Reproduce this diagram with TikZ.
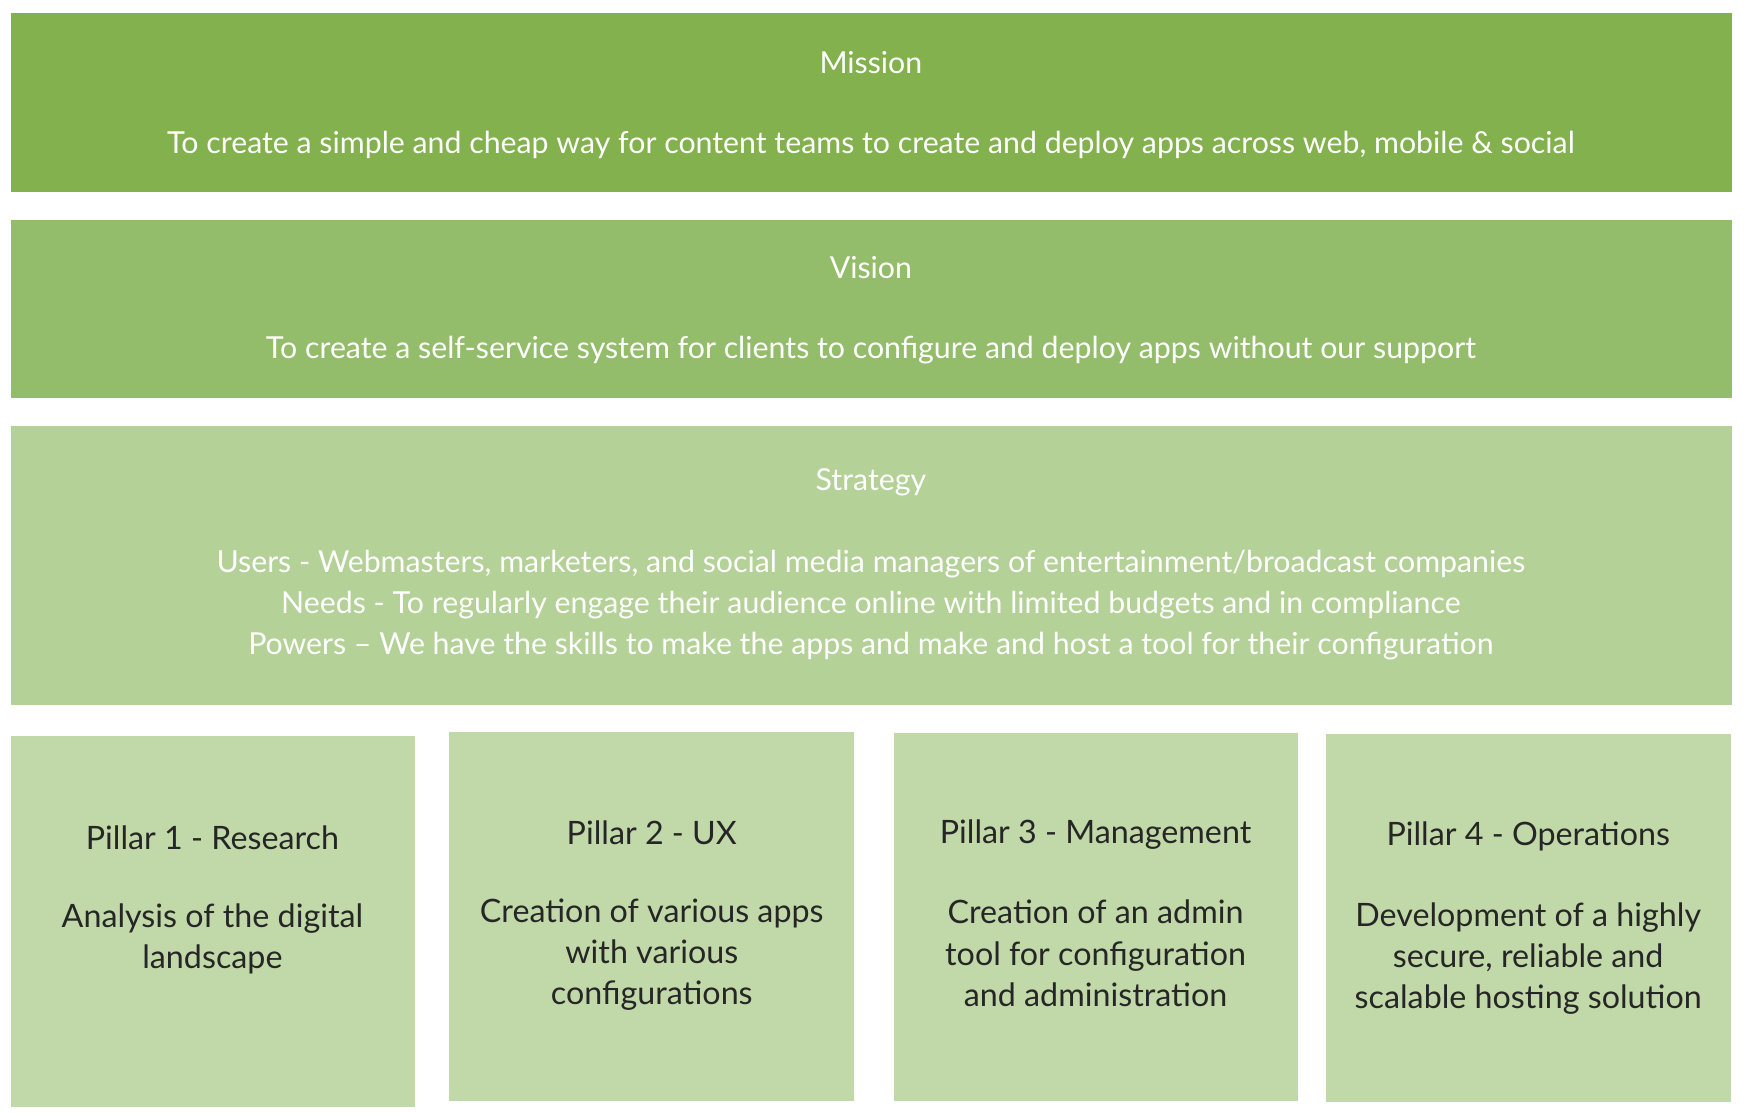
\documentclass[tikz,border=0pt]{standalone}
\usepackage{fontspec}
\setmainfont{Lato}
\usetikzlibrary{positioning}
\definecolor{missiongreen}{HTML}{82B14E}
\definecolor{visiongreen}{HTML}{94BD6B}
\definecolor{strategygreen}{HTML}{B4D197}
\definecolor{pillargreen}{HTML}{C1D9A8}
\definecolor{pillartext}{HTML}{262626}
\begin{document}
\begin{tikzpicture}[x=0.02cm,y=-0.02cm]

\tikzset{band/.style={inner sep=0pt,draw=none},
bandtext/.style={font=\fontsize{15.5}{21}\selectfont,text=white,align=center,inner sep=0pt},
pillartitle/.style={font=\fontsize{16.5}{21}\selectfont,text=pillartext,align=center,inner sep=0pt},
pillarbody/.style={font=\fontsize{16.5}{21}\selectfont,text=pillartext,align=center,inner sep=0pt}}

\useasboundingbox (0,0) rectangle (1568,1002);

% Bands
\fill[missiongreen] (10,12) rectangle (1557,173);
\fill[visiongreen] (10,198) rectangle (1557,358);
\fill[strategygreen] (10,383) rectangle (1557,634);

\node[bandtext] (missiontitle) at (783,56) {Mission};
\node[bandtext] (missiontext) at (783,130) {To create a simple and cheap way for content teams to create and deploy apps across web, mobile \& social};
\node[bandtext] (visiontitle) at (783,241) {Vision};
\node[bandtext] (visiontext) at (783,315) {To create a self-service system for clients to configure and deploy apps without our support};
\node[bandtext] (strategytitle) at (783,434) {Strategy};
\node[bandtext,anchor=north] (strategytext) at (783,494) {Users - Webmasters, marketers, and social media managers of entertainment/broadcast companies\\Needs - To regularly engage their audience online with limited budgets and in compliance\\Powers -- We have the skills to make the apps and make and host a tool for their configuration};

% Pillars
\fill[pillargreen] (10,662) rectangle (373,995);
\fill[pillargreen] (404,658) rectangle (768,990);
\fill[pillargreen] (804,659) rectangle (1167,990);
\fill[pillargreen] (1192,660) rectangle (1556,991);

\node[pillartitle] (p1title) at (191,753) {Pillar 1 - Research};
\node[pillarbody,anchor=north] (p1text) at (191,812) {Analysis of the digital\\landscape};
\node[pillartitle] (p2title) at (586,749) {Pillar 2 - UX};
\node[pillarbody,anchor=north] (p2text) at (586,808) {Creation of various apps\\with various\\configurations};
\node[pillartitle] (p3title) at (985,750) {Pillar 3 - Management};
\node[pillarbody,anchor=north] (p3text) at (985,809) {Creation of an admin\\tool for configuration\\and administration};
\node[pillartitle] (p4title) at (1374,752) {Pillar 4 - Operations};
\node[pillarbody,anchor=north] (p4text) at (1374,811) {Development of a highly\\secure, reliable and\\scalable hosting solution};

\end{tikzpicture}
\end{document}
